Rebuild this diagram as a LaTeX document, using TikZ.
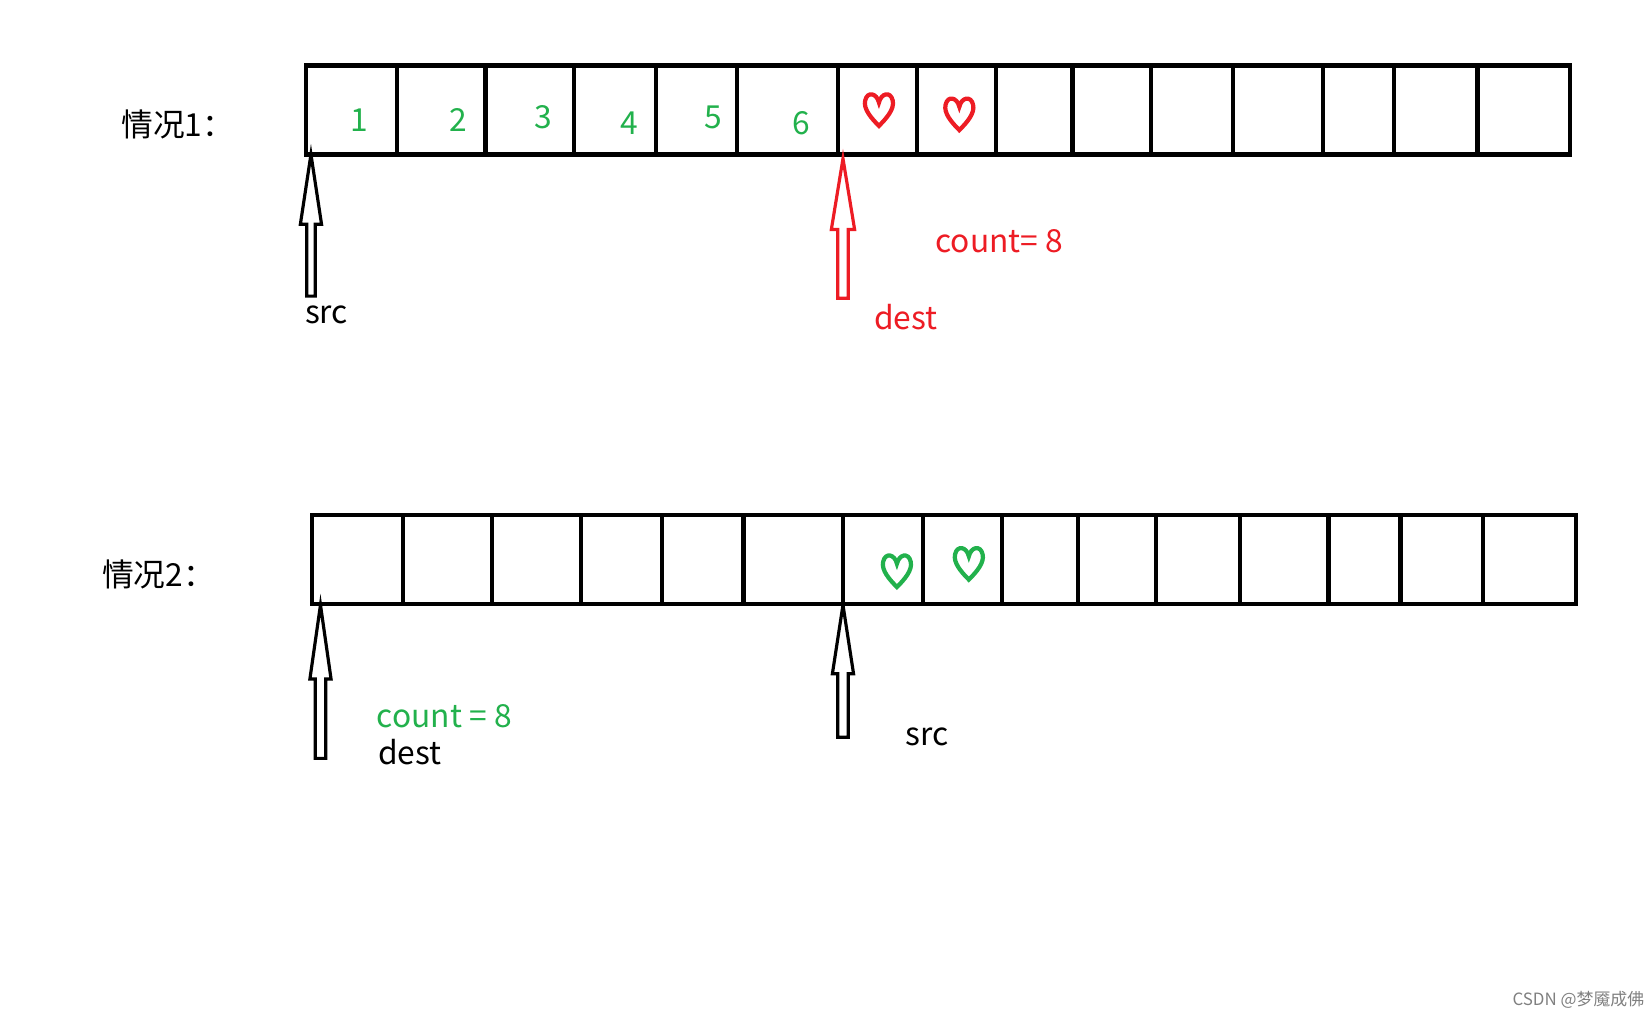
\documentclass[tikz,border=0pt]{standalone}
\usepackage{fontspec}
\setmainfont{Noto Sans CJK SC}
\definecolor{gr}{RGB}{34,177,76}
\definecolor{rd}{RGB}{237,28,36}
\begin{document}
\begin{tikzpicture}[x=0.5pt,y=-0.5pt,
  cell/.style={draw=black,line width=2pt},
  lbl/.style={font=\fontsize{15}{18}\selectfont,inner sep=0pt},
  num/.style={lbl,text=gr},
  hollow/.style={line width=1.5pt,line join=miter},
  heart/.pic={\draw[line width=2pt,pic actions] (0,16) .. controls (-7,9) and (-15,0) .. (-13,-8) .. controls (-11,-17) and (-2,-15) .. (0,-6) .. controls (2,-15) and (11,-17) .. (13,-8) .. controls (15,0) and (7,9) .. (0,16) -- cycle;}]
\useasboundingbox (0,0) rectangle (1560,957);
% row 1
\foreach \a/\b [count=\i] in {289/375,375/459,459/543,543/620,620/697,697/792,792/867,867/942,942/1014,1014/1088,1088/1166,1166/1251,1251/1318,1318/1397,1397/1484}
  \draw[cell] (\a,62) rectangle (\b,146) node[coordinate](r1c\i){};
\foreach \a/\b [count=\i] in {295/381,381/465,465/549,549/626,626/703,703/797,797/873,873/947,947/1019,1019/1093,1093/1172,1172/1256,1256/1324,1324/1402,1402/1490}
  \draw[cell] (\a,487) rectangle (\b,571) node[coordinate](r2c\i){};
\node[lbl] (t1) at (168,118) {情况1：};
\node[lbl] (t2) at (150,543) {情况2：};
\node[num] (n1) at (340,114) {1};
\node[num] (n2) at (433,113) {2};
\node[num] (n3) at (514,111) {3};
\node[num] (n4) at (595,116) {4};
\node[num] (n5) at (674,111) {5};
\node[num] (n6) at (758,116) {6};
\pic[draw=rd] at (831,103) {heart};
\pic[draw=rd] at (907,107) {heart};
\pic[draw=gr] at (848,539) {heart};
\pic[draw=gr] at (916,532) {heart};
% arrows
\draw[hollow] (290,280) -- (290,212) -- (284,212) -- (294,146) -- (304,212) -- (298,212) -- (298,280) -- cycle;
\draw[hollow,draw=rd] (792,282) -- (792,217) -- (786,217) -- (797,150) -- (808,217) -- (802,217) -- (802,282) -- cycle;
\draw[hollow] (298,717) -- (298,642) -- (293,642) -- (303,572) -- (313,642) -- (308,642) -- (308,717) -- cycle;
\draw[hollow] (792,697) -- (792,637) -- (787,637) -- (797,572) -- (807,637) -- (802,637) -- (802,697) -- cycle;
\node[lbl,anchor=west] (s1) at (288,298) {src};
\node[lbl,anchor=west,text=rd] (c1) at (884,228) {count= 8};
\node[lbl,anchor=west,text=rd] (d1) at (826,300) {dest};
\node[lbl,anchor=west,text=gr] (c2) at (356,677) {count = 8};
\node[lbl,anchor=west] (d2) at (357,711) {dest};
\node[lbl,anchor=west] (s2) at (856,697) {src};
\node[anchor=east,inner sep=0pt,text=gray,font=\fontsize{8}{10}\selectfont] (wm) at (1555,945) {CSDN @梦魇成佛};
\end{tikzpicture}
\end{document}
